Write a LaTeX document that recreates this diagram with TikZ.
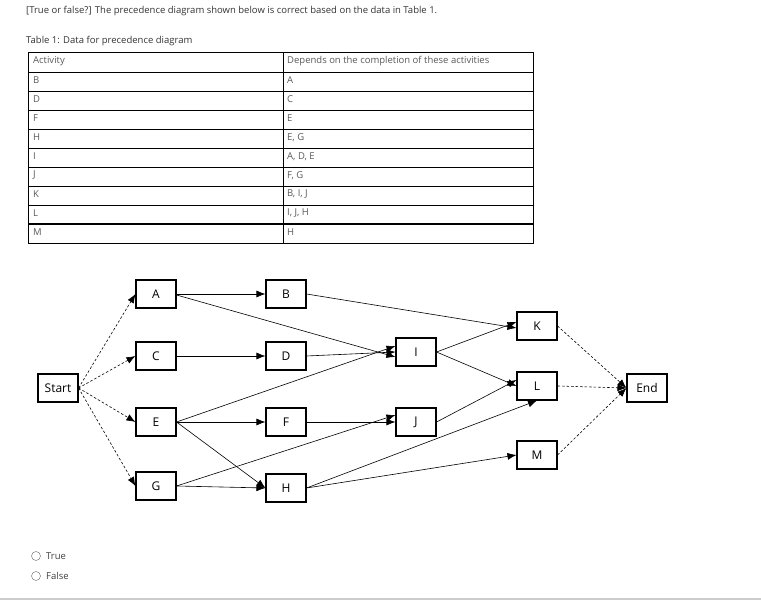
\documentclass[tikz,border=0pt]{standalone}
\usepackage{fontspec}
\setmainfont{Open Sans}
\usetikzlibrary{arrows.meta}
\begin{document}
\begin{tikzpicture}[x=1pt,y=-1pt,font=\fontsize{9.5}{11}\selectfont,
  bx/.style={draw,line width=1.1pt,minimum width=40pt,minimum height=28pt,inner sep=0pt,font=\fontsize{12}{13}\selectfont},
  arr/.style={-{Latex[length=9pt,width=7pt]},line width=0.6pt},
  dsh/.style={arr,dashed,dash pattern=on 2.5pt off 2pt}]
\useasboundingbox (0,0) rectangle (761,601);
\node[anchor=west,text=black!80,inner sep=0pt] (q) at (26,11) {[True or false?] The precedence diagram shown below is correct based on the data in Table 1.};
\node[anchor=west,text=black!80,inner sep=0pt] (cap) at (26,41) {Table 1: Data for precedence diagram};
\draw[line width=0.7pt] (28,52) rectangle (533,243);
\draw[line width=0.7pt] (283,52) -- (283,243);
\foreach \y in {72,91,110,129,148,167,186,205} \draw[line width=0.7pt] (28,\y) -- (533,\y);
\draw[line width=1.5pt] (28,224) -- (533,224);
\foreach \a/\b [count=\i] in {Activity/Depends on the completion of these activities,B/A,D/C,F/E,H/{E, G},I/{A, D, E},J/{F, G},K/{B, I, J},L/{I, J, H},M/H}{
  \node[anchor=west,text=black!65,inner sep=0pt] at (33,{52+19*\i-9.5}) {\a};
  \node[anchor=west,text=black!65,inner sep=0pt] at (287,{52+19*\i-9.5}) {\b};
}
\node[bx] (S) at (58,388) {Start};
\node[bx] (A) at (156,294) {A};
\node[bx] (B) at (286,294) {B};
\node[bx] (C) at (156,356) {C};
\node[bx] (D) at (286,356) {D};
\node[bx] (I) at (416,352) {I};
\node[bx] (E) at (156,422) {E};
\node[bx] (F) at (286,422) {F};
\node[bx] (J) at (416,422) {J};
\node[bx] (G) at (156,486) {G};
\node[bx] (H) at (286,488) {H};
\node[bx] (K) at (537,326) {K};
\node[bx] (L) at (537,386) {L};
\node[bx] (M) at (537,455) {M};
\node[bx] (End) at (647,388) {End};
\draw[dsh] (S.east) -- (A.west);
\draw[dsh] (S.east) -- (C.west);
\draw[dsh] (S.east) -- (E.west);
\draw[dsh] (S.east) -- (G.west);
\draw[arr] (A.east) -- (B.west);
\draw[arr] ([yshift=-1pt]A.east) -- ([yshift=-5pt]I.west);
\draw[arr] (C.east) -- (D.west);
\draw[arr] (D.east) -- (I.west);
\draw[arr] (E.east) -- ([yshift=6pt]I.west);
\draw[arr] (E.east) -- (F.west);
\draw[arr] (E.east) -- (H.west);
\draw[arr] (F.east) -- (J.west);
\draw[arr] (G.east) -- ([yshift=7pt]J.west);
\draw[arr] (G.east) -- (H.west);
\draw[arr] (B.east) -- ([yshift=-2pt]K.west);
\draw[arr] (I.east) -- ([yshift=4pt]K.west);
\draw[arr] (I.east) -- (L.west);
\draw[arr] (J.east) -- ([yshift=6pt]L.west);
\draw[arr] (H.east) -- (L.south);
\draw[arr] (H.east) -- (M.west);
\draw[dsh] (K.east) -- (End.west);
\draw[dsh] (L.east) -- (End.west);
\draw[dsh] (M.east) -- (End.west);
\node[draw=black!60,circle,minimum size=9pt,inner sep=0pt] (r1) at (36,556) {};
\node[draw=black!60,circle,minimum size=9pt,inner sep=0pt] (r2) at (36,576) {};
\node[anchor=west,text=black!75,inner sep=0pt] (t1) at (46,556) {True};
\node[anchor=west,text=black!75,inner sep=0pt] (t2) at (46,576) {False};
\draw[black!20,line width=1.5pt] (0,599) -- (761,599);
\end{tikzpicture}
\end{document}
